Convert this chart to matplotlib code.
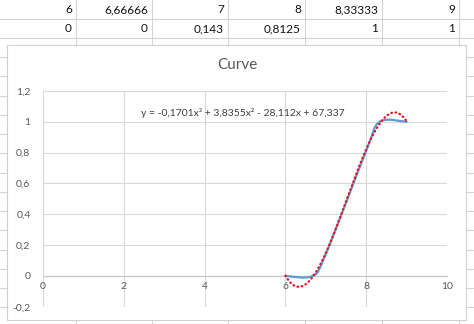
import numpy as np
import matplotlib.pyplot as plt
from matplotlib.path import Path
from matplotlib.patches import PathPatch, Rectangle

plt.rcParams['font.family'] = ['Lato', 'DejaVu Sans']

# sheet data
x_vals = [6, 6.66666, 7, 8, 8.33333, 9]
y_vals = [0, 0, 0.143, 0.8125, 1, 1]

title = 'Curve'
eq_label = 'y = -0,1701x³ + 3,8355x² - 28,112x + 67,337'
y_ticks = [-0.2, 0, 0.2, 0.4, 0.6, 0.8, 1, 1.2]
x_ticks = [0, 2, 4, 6, 8, 10]


def comma(v):
    return f'{v:g}'.replace('.', ',')


W, H = 474, 324
fig = plt.figure(figsize=(W / 100, H / 100), dpi=100)

# spreadsheet background
bg = fig.add_axes([0, 0, 1, 1])
bg.set_xlim(0, W)
bg.set_ylim(H, 0)
bg.axis('off')

col_edges = [76, 152, 228, 305, 382, 459]
for cx in col_edges:
    bg.plot([cx, cx], [0, H], color='#d4d4d4', lw=0.8, zorder=1)
row_edges = [18.5 + 19.25 * k for k in range(17)]
for ry in row_edges:
    bg.plot([0, W], [ry, ry], color='#d4d4d4', lw=0.8, zorder=1)

for cx, xv, yv in zip(col_edges, x_vals, y_vals):
    bg.text(cx - 4, 9.5, comma(xv), ha='right', va='center', fontsize=8.5, color='#111111')
    bg.text(cx - 4, 29, comma(yv), ha='right', va='center', fontsize=8.5, color='#111111')

# chart area
bg.add_patch(Rectangle((7, 44.5), 459, 275, facecolor='white', edgecolor='#d0d0d0',
                       lw=0.8, zorder=5))
bg.text(237, 65, title, ha='center', va='center', fontsize=11, color='#595959', zorder=6)

# plot area
left, right, top, bottom = 43, 447, 91, 306.8
ax = fig.add_axes([left / W, 1 - bottom / H, (right - left) / W, (bottom - top) / H])
ax.set_zorder(10)
ax.patch.set_alpha(0)
ax.set_xlim(0, 10)
ax.set_ylim(-0.2, 1.2)
ax.set_xticks(x_ticks)
ax.set_yticks(y_ticks)
ax.set_xticklabels([comma(t) for t in x_ticks])
ax.set_yticklabels([comma(round(t, 1)) for t in y_ticks])
ax.grid(True, color='#d9d9d9', lw=0.8)
ax.set_axisbelow(True)
for s in ['top', 'right', 'left']:
    ax.spines[s].set_visible(False)
ax.spines['bottom'].set_position(('data', 0))
ax.spines['bottom'].set_color('#c8c8c8')
ax.spines['bottom'].set_linewidth(0.9)
ax.tick_params(length=0, labelsize=7.5, labelcolor='#595959')
ax.tick_params(axis='x', pad=4)
ax.tick_params(axis='y', pad=9)

# smoothed line (Bezier, like Excel's smoothing)
pts = np.column_stack([x_vals, y_vals])
ext = np.vstack([pts[0], pts, pts[-1]])
verts = [pts[0]]
codes = [Path.MOVETO]
for i in range(len(pts) - 1):
    p0, p1, p2, p3 = ext[i], ext[i + 1], ext[i + 2], ext[i + 3]
    c1 = p1 + (p2 - p0) / 6
    c2 = p2 - (p3 - p1) / 6
    verts += [c1, c2, p2]
    codes += [Path.CURVE4] * 3
ax.add_patch(PathPatch(Path(verts, codes), fill=False, edgecolor='#5b9bd5', lw=1.6,
                       capstyle='round', zorder=3))

# polynomial trendline (order 3)
coef = np.polyfit(x_vals, y_vals, 3)
xt = np.linspace(min(x_vals), max(x_vals), 200)
ax.plot(xt, np.polyval(coef, xt), color='#e8101e', lw=1.6, linestyle=(0, (0.3, 1.6)),
        dash_capstyle='round', zorder=4)

ax.text(243, 113, eq_label, transform=None, fontsize=7.5, color='#404040')
ax.texts[-1].set_transform(bg.transData)
ax.texts[-1].set_ha('center')
ax.texts[-1].set_va('center')

fig.savefig('out.png', dpi=100)
